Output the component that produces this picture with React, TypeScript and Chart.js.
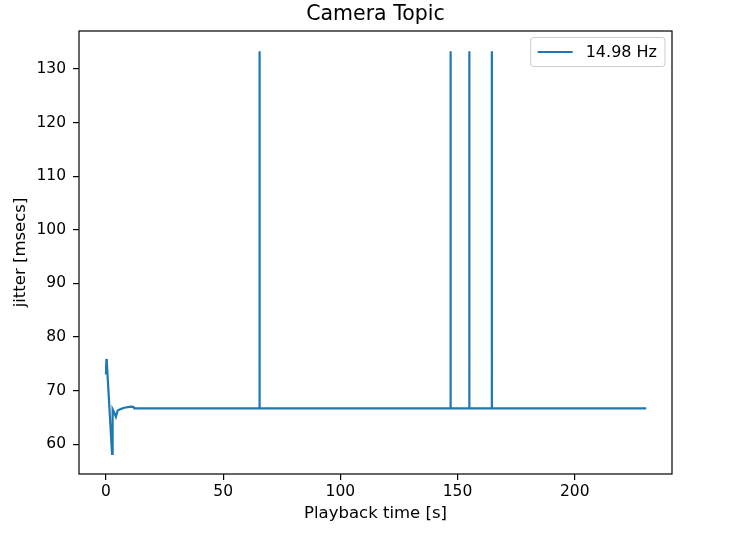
import { useEffect, useRef } from "react";
import { Chart, registerables } from "chart.js";

Chart.register(...registerables);

const chartTitle = "Camera Topic";
const seriesLabel = "14.98 Hz";
const xAxisTitle = "Playback time [s]";
const yAxisTitle = "jitter [msecs]";

// playback time (s)
const timeS = [
  0, 0.2, 0.35, 2.6, 2.85, 3.4, 4.25, 5.0, 6.5, 7.8, 10.6, 11.8, 12.1,
  40, 65.4, 65.5, 65.6, 100, 146.9, 147.0, 147.1, 154.9, 155.0, 155.1,
  164.5, 164.6, 164.7, 200, 230.5,
];
// jitter (ms)
const jitterMs = [
  73.0, 75.9, 75.4, 58.2, 66.5, 66.0, 65.1, 66.3, 66.6, 66.8, 67.0, 66.95, 66.67,
  66.67, 66.67, 133.3, 66.67, 66.67, 66.67, 133.3, 66.67, 66.67, 133.3, 66.67,
  66.67, 133.3, 66.67, 66.67, 66.67,
];

const xTickStep = 50;
const yTickStep = 10;
const xRange = [-11.5, 241.5];
const yRange = [54.45, 137.06];

const lineColor = "#1f77b4";
const FONT = "'DejaVu Sans', sans-serif";

const framePlugin = {
  id: "frame",
  afterDraw(chart: any) {
    const { ctx, chartArea: a } = chart;
    ctx.save();
    ctx.strokeStyle = "#000";
    ctx.lineWidth = 1.2;
    ctx.strokeRect(a.left, a.top, a.right - a.left, a.bottom - a.top);
    ctx.restore();
  },
};

const legendPlugin = {
  id: "mplLegend",
  afterDraw(chart: any) {
    const { ctx, chartArea: a } = chart;
    const label = chart.data.datasets[0].label as string;
    ctx.save();
    ctx.font = `16px ${FONT}`;
    const tw = ctx.measureText(label).width;
    const padL = 7;
    const lineLen = 35;
    const gap = 13;
    const padR = 8;
    const w = padL + lineLen + gap + tw + padR;
    const h = 29;
    const x = a.right - 7 - w;
    const y = a.top + 6.5;
    const r = 3;
    ctx.beginPath();
    ctx.moveTo(x + r, y);
    ctx.lineTo(x + w - r, y);
    ctx.arcTo(x + w, y, x + w, y + r, r);
    ctx.lineTo(x + w, y + h - r);
    ctx.arcTo(x + w, y + h, x + w - r, y + h, r);
    ctx.lineTo(x + r, y + h);
    ctx.arcTo(x, y + h, x, y + h - r, r);
    ctx.lineTo(x, y + r);
    ctx.arcTo(x, y, x + r, y, r);
    ctx.closePath();
    ctx.fillStyle = "rgba(255,255,255,0.8)";
    ctx.fill();
    ctx.strokeStyle = "#cccccc";
    ctx.lineWidth = 1;
    ctx.stroke();
    const cy = y + h / 2;
    ctx.beginPath();
    ctx.moveTo(x + padL, cy);
    ctx.lineTo(x + padL + lineLen, cy);
    ctx.strokeStyle = lineColor;
    ctx.lineWidth = 2.2;
    ctx.stroke();
    ctx.fillStyle = "#000";
    ctx.textBaseline = "middle";
    ctx.textAlign = "left";
    ctx.fillText(label, x + padL + lineLen + gap, cy + 0.5);
    ctx.restore();
  },
};

export default function App() {
  const ref = useRef<HTMLCanvasElement | null>(null);

  useEffect(() => {
    if (!ref.current) return;
    Chart.defaults.font.family = FONT;
    const points = timeS.map((t, i) => ({ x: t, y: jitterMs[i] }));
    const chart = new Chart(ref.current, {
      type: "line",
      data: {
        datasets: [
          {
            label: seriesLabel,
            data: points,
            borderColor: lineColor,
            backgroundColor: lineColor,
            borderWidth: 2.2,
            pointRadius: 0,
            tension: 0,
            fill: false,
          },
        ],
      },
      options: {
        animation: false,
        responsive: false,
        events: [],
        layout: { padding: { top: 0, left: 0, right: 60, bottom: 0 } },
        plugins: {
          legend: { display: false },
          tooltip: { enabled: false },
          title: {
            display: true,
            text: chartTitle,
            fullSize: false,
            color: "#000",
            font: { size: 20.5, weight: "normal", family: FONT },
            padding: { top: 2.5, bottom: 3.9 },
          },
        },
        scales: {
          x: {
            type: "linear",
            min: xRange[0],
            max: xRange[1],
            afterFit(scale: any) {
              scale.height = 62;
            },
            ticks: {
              stepSize: xTickStep,
              includeBounds: false,
              color: "#000",
              font: { size: 15.5 },
              padding: 3,
              maxRotation: 0,
            },
            grid: {
              display: true,
              drawOnChartArea: false,
              drawTicks: true,
              tickLength: 6,
              color: "#000",
              lineWidth: 1.2,
            },
            border: { display: false },
            title: {
              display: true,
              text: xAxisTitle,
              color: "#000",
              font: { size: 16.5 },
              padding: { top: 0, bottom: 12 },
            },
          },
          y: {
            type: "linear",
            min: yRange[0],
            max: yRange[1],
            afterFit(scale: any) {
              scale.width = 79;
            },
            ticks: {
              stepSize: yTickStep,
              includeBounds: false,
              color: "#000",
              font: { size: 15.5 },
              padding: 7,
            },
            grid: {
              display: true,
              drawOnChartArea: false,
              drawTicks: true,
              tickLength: 6,
              color: "#000",
              lineWidth: 1.2,
            },
            border: { display: false },
            title: {
              display: true,
              text: yAxisTitle,
              color: "#000",
              font: { size: 16.5 },
              padding: { top: 11, bottom: 0 },
            },
          },
        },
      },
      plugins: [framePlugin, legendPlugin],
    });
    return () => chart.destroy();
  }, []);

  return (
    <div style={{ position: "absolute", left: 0, top: 0, width: 732, height: 536, background: "#fff" }}>
      <canvas ref={ref} width={732} height={536} />
    </div>
  );
}
